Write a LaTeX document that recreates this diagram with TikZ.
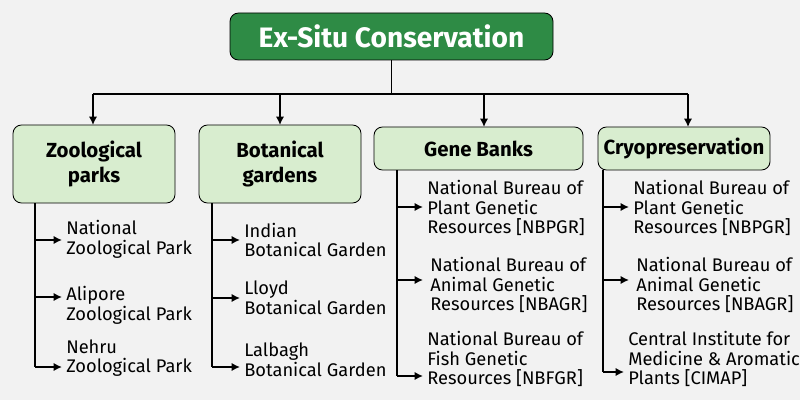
\documentclass[tikz,border=0pt]{standalone}
\usepackage{fontspec}
\setmainfont{Fira Sans}
\usetikzlibrary{arrows.meta}
\definecolor{bg}{HTML}{F2F2F2}
\definecolor{dg}{HTML}{2E8B45}
\definecolor{lg}{HTML}{D8EDCF}
\tikzset{
 cat/.style={draw=black, fill=lg, rounded corners=6pt, line width=0.6pt, align=center, font=\fontsize{14.5}{17.5}\selectfont\bfseries, inner sep=0pt},
 item/.style={anchor=west, align=left, font=\fontsize{13}{14}\selectfont, inner sep=0pt},
 ln/.style={line width=1.2pt},
 ar/.style={line width=1.2pt, -{Latex[length=6pt,width=6pt]}}
}
\begin{document}
\begin{tikzpicture}[x=0.025cm,y=-0.025cm]
\fill[bg] (0,0) rectangle (800,400);
\useasboundingbox (0,0) rectangle (800,400);
\node[draw=black, fill=dg, rounded corners=6pt, line width=0.6pt, minimum width=323*0.025cm, minimum height=47*0.025cm, text=white, font=\fontsize{20}{24}\selectfont\bfseries] (root) at (391.5,36.5) {Ex-Situ Conservation};
\node[cat, minimum width=162*0.025cm, minimum height=78*0.025cm] (zoo) at (94,164) {Zoological\\parks};
\node[cat, minimum width=162*0.025cm, minimum height=78*0.025cm] (bot) at (280,164) {Botanical\\gardens};
\node[cat, minimum width=209*0.025cm, minimum height=43*0.025cm] (gene) at (478.5,148.5) {Gene Banks};
\node[cat, minimum width=172*0.025cm, minimum height=43*0.025cm] (cryo) at (684,148.5) {Cryopreservation};
\coordinate (h) at (391.5,94);
\draw[ln] (root.south) -- (h);
\draw[ln] (93,94) -- (688,94);
\draw[ar] (93,94) -- (93,125);
\draw[ar] (280,94) -- (280,125);
\draw[ar] (484,94) -- (484,127);
\draw[ar] (688,94) -- (688,127);
% items
\node[item] (z1) at (66,239) {National\\Zoological Park};
\node[item] (z2) at (66,305) {Alipore\\Zoological Park};
\node[item] (z3) at (66,358) {Nehru\\Zoological Park};
\node[item] (b1) at (244,240) {Indian\\Botanical Garden};
\node[item] (b2) at (244,298) {Lloyd\\Botanical Garden};
\node[item] (b3) at (244,360) {Lalbagh\\Botanical Garden};
\node[item] (g1) at (427,208) {National Bureau of\\Plant Genetic\\Resources [NBPGR]};
\node[item] (g2) at (430,285) {National Bureau of\\Animal Genetic\\Resources [NBAGR]};
\node[item] (g3) at (427,359) {National Bureau of\\Fish Genetic\\Resources [NBFGR]};
\node[item] (c1) at (633,208) {National Bureau of\\Plant Genetic\\Resources [NBPGR]};
\node[item] (c2) at (636,285) {National Bureau of\\Animal Genetic\\Resources [NBAGR]};
\node[item] (c3) at (628,359) {Central Institute for\\Medicine \& Aromatic\\Plants [CIMAP]};
\draw[ln] (35,203) -- (35,367);
\draw[ar] (35,240) -- (62,240);
\draw[ar] (35,297) -- (62,297);
\draw[ar] (35,367) -- (62,367);
\draw[ln] (212,203) -- (212,367);
\draw[ar] (212,240) -- (240,240);
\draw[ar] (212,298) -- (240,298);
\draw[ar] (212,367) -- (240,367);
\draw[ln] (397,170) -- (397,376);
\draw[ar] (397,207) -- (423,207);
\draw[ar] (397,280) -- (423,280);
\draw[ar] (397,376) -- (423,376);
\draw[ln] (603,170) -- (603,372);
\draw[ar] (603,207) -- (629,207);
\draw[ar] (603,280) -- (629,280);
\draw[ar] (603,372) -- (624,372);
\end{tikzpicture}
\end{document}
